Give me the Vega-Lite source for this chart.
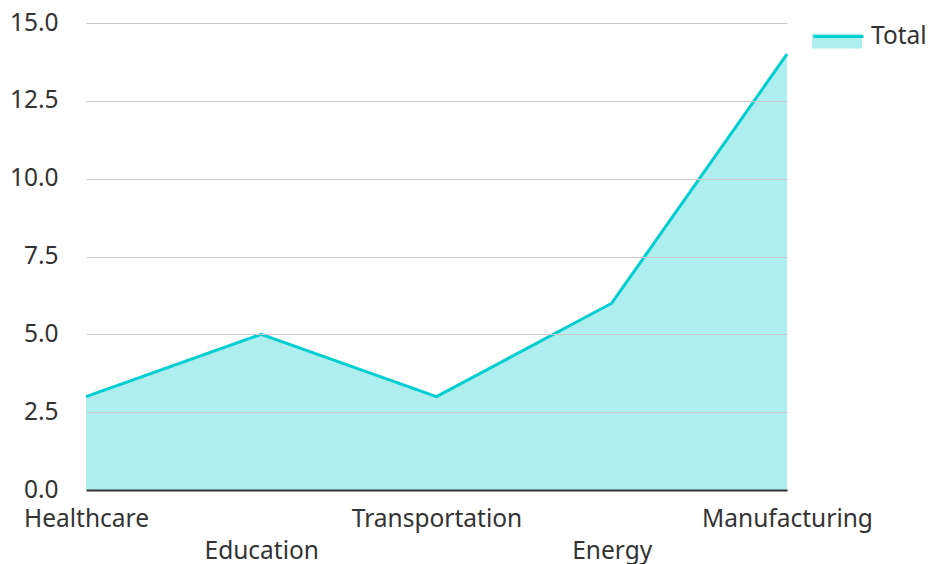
{
  "$schema": "https://vega.github.io/schema/vega-lite/v6.json",
  "width": 701,
  "height": 467,
  "autosize": "none",
  "padding": {"left": 86, "top": 23, "right": 141, "bottom": 74},
  "config": {"view": {"stroke": null}, "font": "Noto Sans"},
  "data": {"values": [
    {"sector": "Healthcare", "value": 3, "series": "Total"},
    {"sector": "Education", "value": 5, "series": "Total"},
    {"sector": "Transportation", "value": 3, "series": "Total"},
    {"sector": "Energy", "value": 6, "series": "Total"},
    {"sector": "Manufacturing", "value": 14, "series": "Total"}
  ]},
  "encoding": {
    "x": {"field": "sector", "type": "nominal", "sort": null,
      "scale": {"type": "point", "padding": 0},
      "axis": {"title": null, "labelAngle": 0, "labelAlign": "center", "labelBaseline": "top", "ticks": false, "grid": false,
        "domain": true, "domainColor": "#333333", "domainWidth": 2, "labelOverlap": false, "labelLimit": 300,
        "labelFontSize": 24.5, "labelColor": "#333333", "zindex": 1,
        "labelPadding": {"condition": {"test": "datum.value === 'Education' || datum.value === 'Energy'", "value": 49}, "value": 17}}},
    "y": {"field": "value", "type": "quantitative",
      "scale": {"domain": [0, 15], "nice": false},
      "axis": {"title": null, "values": [0, 2.5, 5, 7.5, 10, 12.5, 15], "format": ".1f", "domain": false, "ticks": false,
        "labelPadding": 28, "labelFontSize": 24.5, "labelColor": "#333333", "gridColor": "#c8c8c8", "gridWidth": 1, "zindex": 1}}
  },
  "layer": [
    {"mark": {"type": "area"},
     "encoding": {"fill": {"field": "series", "type": "nominal", "scale": {"range": ["#AFEEEE"]},
       "legend": {"title": null, "orient": "none", "legendX": 726, "legendY": -13, "padding": 0,
         "symbolType": "M-1,-0.06H1V0.54H-1Z", "symbolSize": 2500, "symbolStrokeWidth": 0, "labelOpacity": 0,
         "labelFontSize": 24.5, "labelOffset": 6}}}},
    {"mark": {"type": "line", "strokeWidth": 3},
     "encoding": {"stroke": {"field": "series", "type": "nominal", "scale": {"range": ["#00CED1"]},
       "legend": {"title": null, "orient": "none", "legendX": 726, "legendY": -13, "padding": 0,
         "symbolType": "M-1,0H1", "symbolSize": 2500, "symbolStrokeWidth": 3, "symbolFillColor": "transparent",
         "labelFontSize": 24.5, "labelColor": "#333333", "labelOffset": 6}}}}
  ]
}
